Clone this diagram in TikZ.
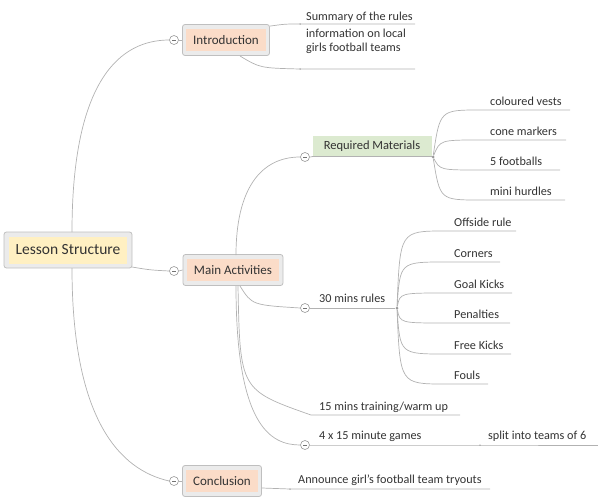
\documentclass[tikz,border=0pt]{standalone}
\usepackage{fontspec}
\setmainfont{Carlito}
\begin{document}
\begin{tikzpicture}[x=1pt,y=-1pt,
  con/.style={draw=black!30,line width=0.7pt},
  outer/.style={draw=black!25,fill=black!8,rounded corners=2.5pt,line width=0.8pt,inner sep=0pt},
  topic/.style={fill=peach,text=black!80,font=\fontsize{13}{15}\selectfont,inner xsep=7pt,inner ysep=5pt},
  leaf/.style={text=black!80,font=\fontsize{12.2}{14}\selectfont,anchor=base west,inner sep=0pt,align=left},
  tog/.style={circle,draw=black!40,fill=white,minimum size=9pt,inner sep=0pt,line width=0.6pt,
     path picture={\draw[black!55,line width=0.7pt] ([xshift=-2pt]path picture bounding box.center)--([xshift=2pt]path picture bounding box.center);}},
  dot/.style={circle,fill=black!40,inner sep=0pt,minimum size=2pt}]
\definecolor{peach}{HTML}{FBDCC8}
\definecolor{cream}{HTML}{FFF0C2}
\definecolor{mint}{HTML}{DCEAD0}
\useasboundingbox (0,0) rectangle (600,501);
% root
\node[outer,minimum width=128pt,minimum height=36pt] (rootb) at (68,250) {};
\node[fill=cream,minimum width=118pt,minimum height=27pt,text=black!80,font=\fontsize{15.5}{17}\selectfont] (root) at (68,250) {Lesson Structure};
% main topics
\node[outer,minimum width=87pt,minimum height=31pt] (introb) at (226,40) {};
\node[topic,minimum width=78pt,minimum height=22pt] (intro) at (226,40) {Introduction};
\node[outer,minimum width=100pt,minimum height=31pt] (mainb) at (233,270) {};
\node[topic,minimum width=91pt,minimum height=22pt] (main) at (233,270) {Main Activities};
\node[outer,minimum width=79pt,minimum height=31pt] (concb) at (222,481) {};
\node[topic,minimum width=70pt,minimum height=22pt] (conc) at (222,481) {Conclusion};
\node[tog] (ti) at (174,40) {};
\node[tog] (tm) at (174,271) {};
\node[tog] (tc) at (174,481) {};
\coordinate (r1) at (72,232);
\coordinate (r2) at (72,268);
\coordinate (r3) at (132,267);
\draw[con] (r1) .. controls (72,80) and (120,40) .. (ti.west);
\draw[con] (r2) .. controls (72,420) and (120,470) .. (tc.west);
\draw[con] (r3) .. controls (150,270) .. (tm.west);
\draw[con] (ti.east) -- (introb.west);
\draw[con] (tm.east) -- (mainb.west);
\draw[con] (tc.east) -- (concb.west);
% intro leaves
\coordinate (i1) at (300,24); \coordinate (i1e) at (415,24);
\coordinate (i2) at (300,69); \coordinate (i2e) at (415,69);
\node[leaf] (l1) at (306,20) {Summary of the rules};
\node[leaf] (l2) at (306,51) {information on local\\girls football teams};
\draw[con] (introb.north east) ++(0,2) .. controls (285,24) .. (i1) -- (i1e);
\draw[con] (240,56) .. controls (260,68) .. (i2) -- (i2e);
\node[dot,minimum size=1.5pt] at (i1) {}; \node[dot,minimum size=1.5pt] at (i2) {};
% required materials
\node[fill=mint,minimum width=119pt,minimum height=21pt,text=black!80,font=\fontsize{12.5}{14}\selectfont] (req) at (372,146) {Required Materials};
\node[tog] (tr) at (305,157) {};
\coordinate (m1) at (236,255);
\draw[con] (m1) .. controls (236,190) and (260,157) .. (tr.west);
\draw[con] (tr.east) -- (req.south west);
\draw[con] (req.south west) -- (req.south east);
\node[dot,minimum size=3pt] (jr) at (433,157) {};
\foreach \t/\y/\e in {coloured vests/110/570,cone markers/140/566,5 footballs/170/560,mini hurdles/200/565}{
  \coordinate (a) at (480,\y);
  \draw[con] (jr) .. controls (440,\y) .. (a) -- (\e,\y);
  \node[leaf] at (490,\y-5) {\t};
}
% 30 mins rules
\node[tog] (t30) at (305,308) {};
\node[leaf] (r30) at (319,302) {30 mins rules};
\node[dot,minimum size=3pt] (j30) at (397,308) {};
\draw[con] (240,286) .. controls (252,305) .. (t30.west);
\draw[con] (t30.east) -- (j30);
\foreach \t/\y/\e in {Offside rule/231/516,Corners/262/500,Goal Kicks/293/512,Penalties/323/510,Free Kicks/354/511,Fouls/384/488}{
  \coordinate (a) at (445,\y);
  \draw[con] (j30) .. controls (400,\y) .. (a) -- (\e,\y);
  \node[leaf] at (454,\y-5) {\t};
}
% training
\coordinate (w) at (311,415);
\draw[con] (238,286) .. controls (240,390) .. (w) -- (460,415);
\node[leaf] at (319,410) {15 mins training/warm up};
% games
\node[tog] (tg) at (305,445) {};
\draw[con] (236,286) .. controls (236,425) and (270,445) .. (tg.west);
\coordinate (g) at (480,445);
\draw[con] (tg.east) -- (g) -- (598,445);
\node[dot,minimum size=1.5pt] at (g) {};
\node[leaf] at (319,439) {4 x 15 minute games};
\node[leaf] at (488,439) {split into teams of 6};
% conclusion leaf
\coordinate (c) at (290,489);
\draw[con] (concb.east) ++(0,7) -- (c) -- (490,489);
\node[dot,minimum size=1.5pt] at (c) {};
\node[leaf] at (298,483) {Announce girl's football team tryouts};
\end{tikzpicture}
\end{document}
